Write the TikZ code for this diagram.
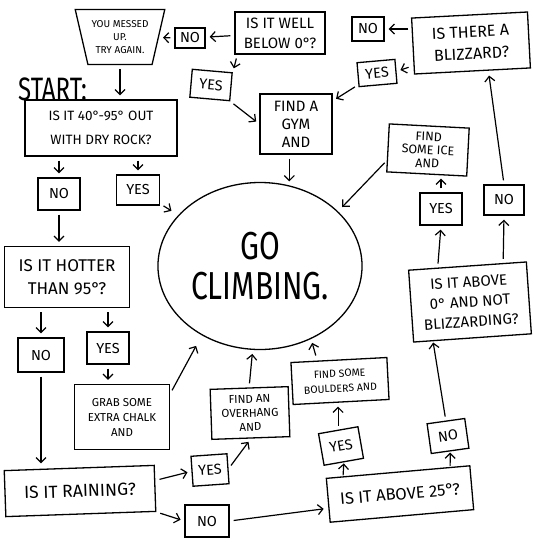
\documentclass[tikz,border=0pt]{standalone}
\usepackage{fontspec}
\usepackage{graphicx}
\setmainfont{Fira Sans}
\usetikzlibrary{arrows.meta,shapes.geometric,calc}
\newcommand{\fs}[2]{\fontsize{#1}{#2}\selectfont}
\begin{document}
\begin{tikzpicture}[x=1pt,y=-1pt,
  box/.style={draw, line width=1.3pt, align=center, inner sep=2pt, font=\fs{15}{20}},
  lbl/.style={box, font=\fs{14.5}{16}, minimum width=36, minimum height=28},
  arr/.style={-{Straight Barb[length=5pt,width=10pt,line width=1.2pt]}, line width=1.2pt, shorten >=4pt, shorten <=4pt},
  ]
\useasboundingbox[fill=white] (0,0) rectangle (534,544);

% top row
\node[box, trapezium, shape border rotate=180, trapezium stretches=true,
      minimum width=90, minimum height=55, trapezium angle=72,
      font=\fs{10}{13}] (mess) at (120,37) {YOU MESSED\\UP.\\TRY AGAIN.};
\node[lbl, minimum width=30, minimum height=20] (no1) at (190,38) {NO};
\node[box, minimum width=90, minimum height=42, font=\fs{15}{20}] (below) at (280,33) {IS IT WELL\\BELOW 0°?};
\node[lbl, minimum width=32, minimum height=24] (no2) at (368,29) {NO};
\node[box, rotate=3, minimum width=116, minimum height=56, font=\fs{16}{22}] (bliz) at (471,43) {IS THERE A\\BLIZZARD?};
\node[lbl, rotate=5, minimum width=38, minimum height=24] (yes2) at (377,73) {YES};
\node[lbl, rotate=-5, minimum width=40, minimum height=28] (yes1) at (211,85) {YES};
\node[box, minimum width=72, minimum height=60, font=\fs{15}{18}] (gym) at (296,124) {FIND A\\GYM\\AND};

% start
\node[font=\fs{24}{26}, anchor=south west, inner sep=0pt] (start) at (18,101) {\scalebox{1}[1.35]{START:}};
\node[box, minimum width=152, minimum height=56, font=\fs{13.5}{24}] (dry) at (101,128) {IS IT 40°-95° OUT\\WITH DRY ROCK?};
\node[lbl, minimum width=42, minimum height=32] (no3) at (59,194) {NO};
\node[lbl, minimum width=43, minimum height=30] (yes3) at (138,190) {YES};

% goal
\node[draw, ellipse, line width=1.3pt, minimum width=180, minimum height=167,
      align=center, font=\fs{30}{40}] (go) at (260,266) {\scalebox{1}[1.3]{GO}\\\scalebox{1}[1.3]{CLIMBING.}};

% left column
\node[box, minimum width=125, minimum height=61, font=\fs{17}{23}] (hot) at (67,277) {IS IT HOTTER\\THAN 95°?};
\node[lbl, minimum width=46, minimum height=34] (no4) at (41,355) {NO};
\node[lbl, minimum width=42, minimum height=32] (yes4) at (108,348) {YES};
\node[box, minimum width=95, minimum height=65, font=\fs{11.5}{15}] (chalk) at (122,417) {GRAB SOME\\EXTRA CHALK\\AND};
\node[box, rotate=2, minimum width=150, minimum height=46, font=\fs{17.5}{20}] (rain) at (80,491) {IS IT RAINING?};
\node[lbl, rotate=4, minimum width=36, minimum height=30] (yes5) at (210,470) {YES};
\node[box, rotate=2, minimum width=78, minimum height=50, font=\fs{11.5}{14}] (over) at (250,413) {FIND AN\\OVERHANG\\AND};
\node[lbl, minimum width=44, minimum height=32] (no5) at (207,521) {NO};

% bottom right
\node[box, rotate=5, minimum width=144, minimum height=44, font=\fs{16.5}{20}] (t25) at (400,494) {IS IT ABOVE 25°?};
\node[lbl, rotate=10, minimum width=40, minimum height=32] (yes6) at (341,446) {YES};
\node[box, rotate=3, minimum width=96, minimum height=42, font=\fs{10.5}{15}] (bould) at (340,381) {FIND SOME\\BOULDERS AND};
\node[lbl, rotate=8, minimum width=38, minimum height=30] (no6) at (448,436) {NO};
\node[box, rotate=4, minimum width=118, minimum height=72, font=\fs{15}{20}] (t0) at (470,302) {IS IT ABOVE\\0° AND NOT\\BLIZZARDING?};
\node[lbl, minimum width=42, minimum height=32] (yes7) at (441,209) {YES};
\node[lbl, minimum width=40, minimum height=30] (no7) at (504,200) {NO};
\node[box, rotate=-3, minimum width=80, minimum height=48, font=\fs{12.5}{13.5}] (ice) at (428,150) {FIND\\SOME ICE\\AND};

% connectors
\draw[arr] (no1) -- (mess);
\draw[arr] (below) -- (no1);
\draw[arr] (bliz.west |- no2) -- (no2);
\draw[arr] ([yshift=-20pt]bliz.west) -- (yes2.east);
\draw[arr] ([xshift=3pt]below.south west) -- (yes1.north east);
\draw[arr] (yes1.south east) -- (gym.west);
\draw[arr] (yes2) -- (gym);
\draw[arr] (go.70 |- gym.south) -- (go.70);
\draw[arr] (mess.south) -- (mess.south |- dry.north);
\draw[arr] (dry.south -| no3) -- (no3.north);
\draw[arr] (dry.south -| yes3) -- (yes3.north);
\draw[arr, shorten >=8pt] (yes3) -- (go);
\draw[arr] (no3.south) -- (no3.south |- hot.north);
\draw[arr] (hot.south -| no4) -- (no4.north);
\draw[arr] (hot.south -| yes4) -- (yes4.north);
\draw[arr] (yes4.south) -- (yes4.south |- chalk.north);
\draw[arr, shorten >=12pt] ([yshift=-10pt]chalk.north east) -- (go.230);
\draw[arr] (no4.south) -- (no4.south |- rain.north);
\draw[arr] ([yshift=8pt]rain.east) -- (yes5.west);
\draw[arr] (yes5.east) -- (over.south);
\draw[arr] (over.north) -- (go.265);
\draw[arr] (rain.south east) -- (no5.west);
\draw[arr] (no5.east) -- ([yshift=-8pt]t25.west);
\draw[arr, shorten <=1pt, shorten >=1pt] ($(t25.north west)!0.12!(t25.north east)$) -- (yes6.south);
\draw[arr] (yes6.north) -- (yes6.north |- bould.south);
\draw[arr] ([xshift=-22pt]bould.north) -- (go.305);
\draw[arr, shorten <=1pt, shorten >=1pt] ($(t25.north west)!0.86!(t25.north east)$) -- (no6.south);
\draw[arr] (no6.north) -- ([xshift=-40pt]t0.south);
\draw[arr] ($(t0.north west)!0.25!(t0.north east)$) -- (yes7.south);
\draw[arr] ($(t0.north west)!0.8!(t0.north east)$) -- (no7.south);
\draw[arr] (yes7.north) -- (yes7.north |- ice.south);
\draw[arr, shorten >=6pt] ([yshift=-12pt]ice.west) -- (go.35);
\draw[arr] (no7.north) -- ([xshift=16pt]bliz.south);
\end{tikzpicture}
\end{document}
